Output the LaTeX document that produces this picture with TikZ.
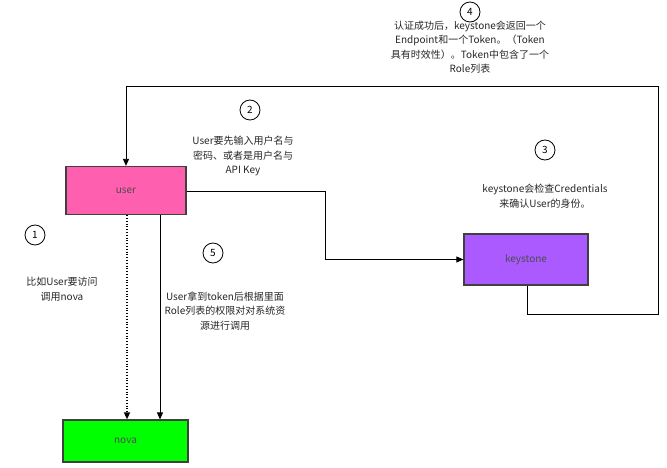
\documentclass[tikz,border=0pt]{standalone}
\usepackage{fontspec}
\setmainfont{Noto Sans CJK SC}
\usetikzlibrary{arrows.meta}
\begin{document}
\begin{tikzpicture}[x=1pt,y=-1pt,
  box/.style={draw=black!75,line width=1.2pt,minimum width=#1,inner sep=0pt,font=\fontsize{10}{10}\selectfont,text=black!70},
  num/.style={circle,draw,line width=0.8pt,minimum size=20pt,inner sep=0pt,font=\fontsize{10}{10}\selectfont},
  txt/.style={align=center,font=\fontsize{10}{14.5}\selectfont,text=black!85},
  arr/.style={line width=0.8pt,-{Triangle[length=7pt,width=6pt]}}]
\useasboundingbox (0,0) rectangle (667,468);
\node[box=120pt,minimum height=48pt,fill={rgb,255:red,255;green,95;blue,175}] (user) at (126,190.5) {user};
\node[box=124pt,minimum height=51pt,fill={rgb,255:red,170;green,90;blue,255}] (key) at (526,259.5) {keystone};
\node[box=125pt,minimum height=42pt,fill={rgb,255:red,0;green,255;blue,0}] (nova) at (125.5,441) {nova};
\coordinate (a1) at (325,191);
\coordinate (a2) at (325,259.5);
\draw[arr] (user.east |- a1) -- (a1) -- (a2) -- (key.west);
\coordinate (b1) at (527,314);
\coordinate (b2) at (658,314);
\coordinate (b3) at (658,86);
\coordinate (b4) at (126,86);
\draw[arr] (key.south -| b1) -- (b1) -- (b2) -- (b3) -- (b4) -- (user.north);
\coordinate (c1) at (127,0); \coordinate (c2) at (160,0);
\draw[arr,dotted,line width=1.5pt] (user.south -| c1) -- (nova.north -| c1);
\draw[arr] (user.south -| c2) -- (nova.north -| c2);
\node[num] (n1) at (35,235) {1};
\node[num] (n2) at (250,110) {2};
\node[num] (n3) at (545,150) {3};
\node[num] (n4) at (470,12) {4};
\node[num] (n5) at (213,253) {5};
\node[txt] (t4) at (470,47) {认证成功后，keystone会返回一个\\Endpoint和一个Token。（Token\\具有时效性）。Token中包含了一个\\Role列表};
\node[txt] (t2) at (243,156) {User要先输入用户名与\\密码、或者是用户名与\\API Key};
\node[txt] (t3) at (545,196) {keystone会检查Credentials\\来确认User的身份。};
\node[txt] (t1) at (62,289) {比如User要访问\\调用nova};
\node[txt] (t5) at (225,311) {User拿到token后根据里面\\Role列表的权限对对系统资\\源进行调用};
\end{tikzpicture}
\end{document}
